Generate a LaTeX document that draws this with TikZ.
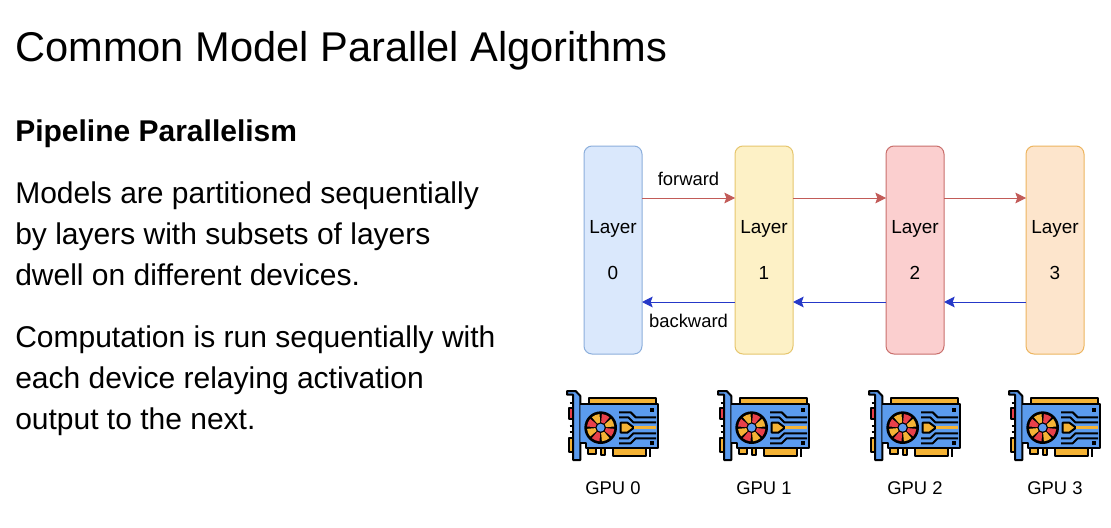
\documentclass[tikz,border=0pt]{standalone}
\usepackage{fontspec}
\setmainfont{Liberation Sans}
\usetikzlibrary{positioning,arrows.meta}
\definecolor{gblue}{HTML}{5B9BEE}
\definecolor{ggold}{HTML}{F5B335}
\definecolor{gred}{HTML}{E8404A}
\definecolor{fwdred}{HTML}{C25B58}
\definecolor{bwdblue}{HTML}{2538C8}
\definecolor{blueline}{HTML}{8CAFDC}
\definecolor{bluefill}{HTML}{DAE8FC}
\definecolor{yellowline}{HTML}{E6C66E}
\definecolor{yellowfill}{HTML}{FDF1C6}
\definecolor{redline}{HTML}{C96F6C}
\definecolor{redfill}{HTML}{FBCFCF}
\definecolor{orangeline}{HTML}{EDB55F}
\definecolor{orangefill}{HTML}{FDE5CC}
\tikzset{
  main/.style = {draw, rounded corners=6pt, line width=.75pt, outer sep=0pt, minimum width=43.5pt, minimum height=156pt, align=center, inner sep=0pt, font=\fontsize{14.2}{34.5}\selectfont},
  title/.style = {anchor=base west, inner sep=0pt, font=\fontsize{31.2}{36}\selectfont},
  head/.style = {anchor=base west, inner sep=0pt, font=\fontsize{22.5}{27}\selectfont\bfseries},
  body/.style = {anchor=base west, inner sep=0pt, font=\fontsize{22.5}{27}\selectfont},
  small/.style = {inner sep=0pt, font=\fontsize{13.8}{16}\selectfont},
  fwd/.style = {-{Stealth[length=8pt,width=8pt,inset=1.5pt]}, line width=.7pt, draw=fwdred},
  bwd/.style = {-{Stealth[length=8pt,width=8pt,inset=1.5pt]}, line width=.75pt, draw=bwdblue},
  gpu/.pic = {
    \begin{scope}[x=.25pt,y=-.25pt,line width=1.5pt,line join=round]
      \draw[fill=ggold] (100,70) -- (100,55) -- (300,55) -- (300,72);
      \draw[fill=ggold] (172,205) rectangle (272,228);
      \draw[fill=ggold] (98,205) rectangle (122,222);
      \draw[fill=ggold] (136,205) rectangle (148,226);
      \draw (282,205) -- (282,230);
      \draw[fill=gred] (40,85) rectangle (52,118);
      \draw[fill=ggold] (40,175) rectangle (52,215);
      \draw (42,68) -- (52,68) (42,138) -- (52,138) (42,156) -- (52,156);
      \draw[fill=gblue] (34,33) -- (60,33) -- (74,48) -- (74,240) -- (52,240) -- (52,44) -- (34,44) -- cycle;
      \draw[fill=gblue] (74,72) -- (306,72) -- (306,205) -- (90,205) -- (90,190) -- (74,190);
      \begin{scope}[shift={(135,143)}]
        \fill (0,0) circle (49);
        \foreach \a/\c in {0/gred,45/ggold,90/gred,135/ggold,180/gred,225/ggold,270/gred,315/ggold}
          \fill[\c] (\a+5:16) -- (\a+5:41) arc[start angle=\a+5,end angle=\a+40,radius=41] -- (\a+40:16) arc[start angle=\a+40,end angle=\a+5,radius=16] -- cycle;
        \fill[gblue] (0,0) circle (12);
      \end{scope}
      \draw (190,97) -- (225,97) -- (240,112) -- (301,112);
      \draw (190,112) -- (218,112) -- (233,127) -- (301,127);
      \draw (190,190) -- (225,190) -- (240,175) -- (301,175);
      \draw (190,175) -- (218,175) -- (233,160) -- (301,160);
      \draw[fill=ggold] (195,128) -- (215,128) -- (235,143) -- (215,158) -- (195,158) -- cycle;
      \draw[ggold,line width=1.8pt] (235,143) -- (301,143);
      \fill (284,84) rectangle (296,96);
      \fill (284,184) rectangle (296,196);
    \end{scope}
  }
}
\begin{document}
\begin{tikzpicture}[x=.75pt,y=-.75pt]
\useasboundingbox[fill=white] (0,0) rectangle (1111,528);

\node[title] (title) at (15,62) {Common Model Parallel Algorithms};
\node[head] (head) at (15,142) {Pipeline Parallelism};
\node[body] (line1) at (15,203) {Models are partitioned sequentially};
\node[body] (line2) at (15,244) {by layers with subsets of layers};
\node[body] (line3) at (15,285) {dwell on different devices.};
\node[body] (line4) at (15,347) {Computation is run sequentially with};
\node[body] (line5) at (15,388) {each device relaying activation};
\node[body] (line6) at (15,429) {output to the next.};

\node[main, draw=blueline, fill=bluefill] (l0) at (613,250) {Layer\\0};
\node[main, draw=yellowline, fill=yellowfill, right=69.75pt of l0] (l1) {Layer\\1};
\node[main, draw=redline, fill=redfill, right=69.75pt of l1] (l2) {Layer\\2};
\node[main, draw=orangeline, fill=orangefill, right=61.5pt of l2] (l3) {Layer\\3};

\draw[fwd] ([yshift=39pt]l0.east) -- node[small, above=9pt] (fwdlabel) {forward} ([yshift=39pt]l1.west);
\draw[fwd] ([yshift=39pt]l1.east) -- ([yshift=39pt]l2.west);
\draw[fwd] ([yshift=39pt]l2.east) -- ([yshift=39pt]l3.west);
\draw[bwd] ([yshift=-39pt]l1.west) -- node[small, below=8.5pt] (bwdlabel) {backward} ([yshift=-39pt]l0.east);
\draw[bwd] ([yshift=-39pt]l2.west) -- ([yshift=-39pt]l1.east);
\draw[bwd] ([yshift=-39pt]l3.west) -- ([yshift=-39pt]l2.east);

\foreach \i in {0,1,2,3} {
  \pic at ([xshift=-43pt,yshift=-19.5pt]l\i.south) {gpu};
  \node[small, below=100.5pt of l\i.south, anchor=center] (gpu\i) {GPU \i};
}
\end{tikzpicture}
\end{document}
